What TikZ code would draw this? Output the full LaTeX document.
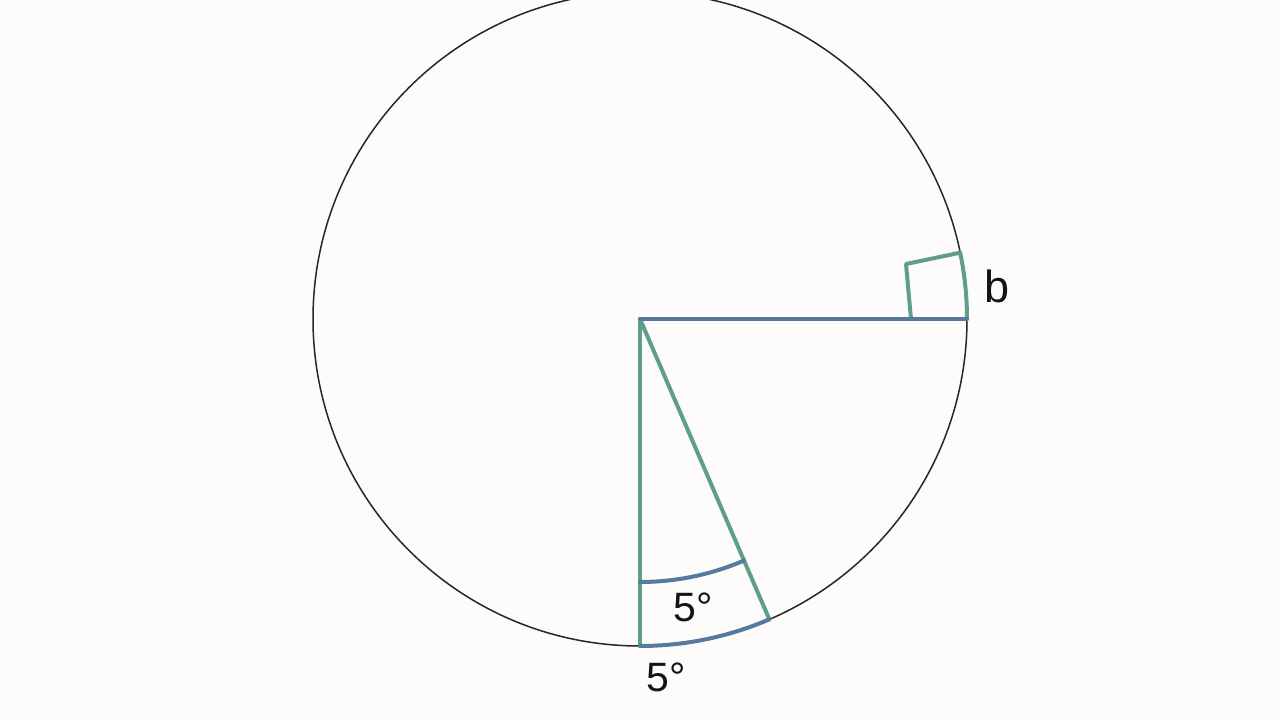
\documentclass[tikz,border=0pt]{standalone}
\usepackage{fontspec}
\setmainfont{Liberation Sans}
\usetikzlibrary{calc}
\definecolor{bg}{HTML}{FDFCFA}
\definecolor{tealg}{HTML}{5E9E8A}
\definecolor{steelb}{HTML}{55799F}
\tikzset{
  circ/.style={draw=black!85, line width=1.5pt},
  gline/.style={draw=tealg, line width=4pt, line cap=round, line join=round},
  bline/.style={draw=steelb, line width=4pt, line cap=round},
  lab/.style={inner sep=0pt, font=\fontsize{41}{49}\selectfont, text=black!92}
}
\begin{document}
\begin{tikzpicture}[x=1pt,y=1pt]
  \fill[bg] (0,0) rectangle (1280,720);
  \useasboundingbox (0,0) rectangle (1280,720);
  \coordinate (C) at (640,401);
  \coordinate (R) at ($(C)+(0:327)$);
  \coordinate (B) at ($(C)+(-90:327)$);
  \coordinate (S) at ($(C)+(-66.7:327)$);
  \coordinate (Bi) at ($(C)+(-90:263)$);
  \coordinate (Si) at ($(C)+(-66.7:263)$);
  \coordinate (M1) at (911,401);
  \coordinate (M2) at (906,456);
  \coordinate (M3) at ($(C)+(11.7:327)$);
  \begin{scope}
    \clip (0,0) rectangle (1280,720);
    \draw[circ] (C) circle[radius=327];
  \end{scope}
  % right-angle marker
  \draw[gline] (M1) -- (M2) -- (M3) arc[start angle=11.7, end angle=0, radius=327];
  % radii
  \draw[gline] (C) -- (B);
  \draw[gline] (C) -- (S);
  \draw[bline] (C) -- (R);
  % arcs
  \draw[bline] (Bi) arc[start angle=-90, end angle=-66.7, radius=263];
  \draw[bline] (B) arc[start angle=-90, end angle=-66.7, radius=327];
  % labels
  \node[lab] (l1) at (693,113) {5°};
  \node[lab] (l2) at (666,43) {5°};
  \node[lab, font=\fontsize{45}{53}\selectfont] (lb) at (997,434) {b};
\end{tikzpicture}
\end{document}
